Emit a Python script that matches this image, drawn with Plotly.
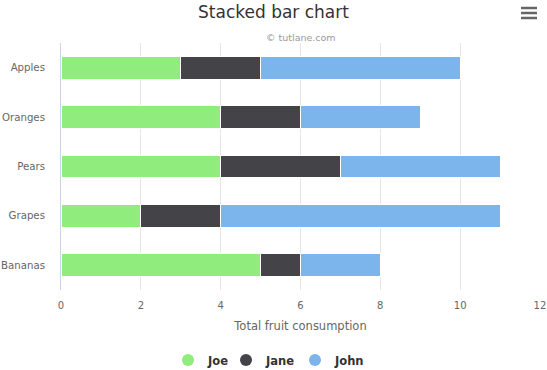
import plotly.graph_objects as go

categories = ["Apples", "Oranges", "Pears", "Grapes", "Bananas"]
joe = [3, 4, 4, 2, 5]
jane = [2, 2, 3, 2, 1]
john = [5, 3, 4, 7, 2]
series_names = ["Joe", "Jane", "John"]
colors = ["#90ed7d", "#434348", "#7cb5ec"]
x_ticks = [0, 2, 4, 6, 8, 10, 12]

FONT = "DejaVu Sans"
legend_ids = ["legend", "legend2", "legend3"]
legend_circle_px = [188, 246, 315]

fig = go.Figure()
for name, vals, col in zip(series_names, [joe, jane, john], colors):
    fig.add_trace(go.Bar(y=categories, x=vals, name=name, orientation="h",
                         marker=dict(color=col, line=dict(width=1, color="#ffffff")),
                         width=0.46, showlegend=False))
for name, col, lid in zip(series_names, colors, legend_ids):
    fig.add_trace(go.Scatter(x=[None], y=[None], mode="markers", name=name, legend=lid,
                             marker=dict(symbol="circle", size=12, color=col)))

fig.update_layout(
    width=547, height=370,
    margin=dict(l=61, r=7, t=43, b=80),
    barmode="stack",
    plot_bgcolor="#ffffff", paper_bgcolor="#ffffff",
    font=dict(family=FONT, color="#666666", size=10.5),
    title=dict(text="Stacked bar chart", x=0.5, xanchor="center", yref="container",
               y=0.968, yanchor="middle",
               font=dict(family=FONT, size=17, color="#333333")),
    xaxis=dict(range=[0, 12.001], tickvals=x_ticks, showgrid=True, gridcolor="#e6e6e6",
               zeroline=False, showline=False, ticks="", ticklen=0, automargin=False,
               ticklabelstandoff=8,
               title=dict(text="Total fruit consumption", font=dict(size=11.5, color="#666666"), standoff=11),
               tickfont=dict(size=10, color="#666666")),
    yaxis=dict(autorange="reversed", showline=True, linecolor="#ccd6eb", linewidth=1,
               showgrid=False, ticks="", ticklabelstandoff=13, automargin=False,
               tickfont=dict(size=10.2, color="#666666")),
    annotations=[dict(text="© tutlane.com", xref="paper", yref="paper", x=0.5, y=1.0,
                      yanchor="bottom", xanchor="center", yshift=-2, showarrow=False,
                      font=dict(family=FONT, size=9.5, color="#999999"))],
)
for lid, cx in zip(legend_ids, legend_circle_px):
    fig.update_layout({lid: dict(orientation="h", xref="container", x=(cx - 20) / 547,
                                 xanchor="left", yref="container", y=0.027, yanchor="middle",
                                 itemwidth=30, bgcolor="rgba(0,0,0,0)",
                                 font=dict(family=FONT, size=11.5, color="#333333", weight="bold"),
                                 itemsizing="constant")})
PW = 547 - 61 - 7
for yy in [8, 13, 18]:
    fig.add_shape(type="line", xref="paper", yref="paper",
                  x0=(521 - 61) / PW, x1=(537 - 61) / PW,
                  y0=(290 - yy) / 247, y1=(290 - yy) / 247,
                  line=dict(color="#666666", width=2.5))
fig.write_html("out.html", config={"displayModeBar": False},
               post_script="document.body.style.margin='0';")
